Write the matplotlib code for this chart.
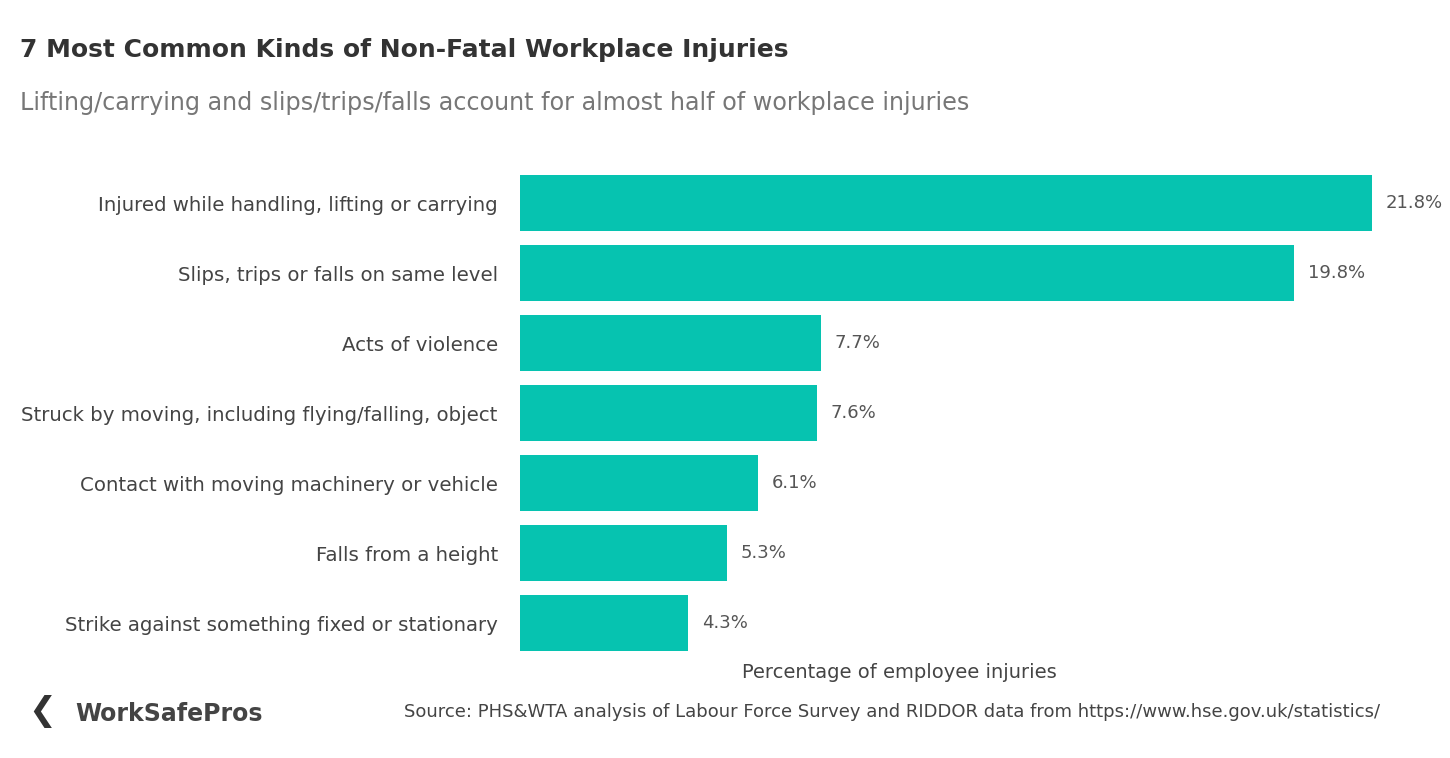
import matplotlib.pyplot as plt

categories = [
    "Injured while handling, lifting or carrying",
    "Slips, trips or falls on same level",
    "Acts of violence",
    "Struck by moving, including flying/falling, object",
    "Contact with moving machinery or vehicle",
    "Falls from a height",
    "Strike against something fixed or stationary",
]
values = [21.8, 19.8, 7.7, 7.6, 6.1, 5.3, 4.3]
value_labels = ["21.8%", "19.8%", "7.7%", "7.6%", "6.1%", "5.3%", "4.3%"]

W, H = 1450, 758
fig = plt.figure(figsize=(W / 100, H / 100), dpi=100)
fig.patch.set_facecolor("white")

# axes placed in pixel terms of the reference
left, right, top, bottom = 520, 1372, 168, 658
ax = fig.add_axes([left / W, 1 - bottom / H, (right - left) / W, (bottom - top) / H])

ypos = list(range(len(categories)))
ax.barh(ypos, values, height=0.8, color="#06c3b0")
ax.set_xlim(0, values[0])
ax.set_ylim(len(categories) - 0.5, -0.5)

for y, v, lab in zip(ypos, values, value_labels):
    ax.text(v + 0.35, y, lab, va="center", ha="left", fontsize=13, color="#555555", clip_on=False)

ax.set_yticks(ypos)
ax.set_yticklabels(categories, fontsize=14.2, color="#444444")
ax.tick_params(axis="y", length=0, pad=16)
ax.set_xticks([])
for s in ax.spines.values():
    s.set_visible(False)

fig.text(899 / W, 1 - 672 / H, "Percentage of employee injuries", ha="center", va="center",
         fontsize=14, color="#444444")

fig.text(20 / W, 1 - 50 / H, "7 Most Common Kinds of Non-Fatal Workplace Injuries", ha="left", va="center",
         fontsize=18, fontweight="bold", color="#333333")
fig.text(20 / W, 1 - 103 / H,
         "Lifting/carrying and slips/trips/falls account for almost half of workplace injuries",
         ha="left", va="center", fontsize=17.2, color="#777777")

fig.text(1380 / W, 1 - 712 / H,
         "Source: PHS&WTA analysis of Labour Force Survey and RIDDOR data from https://www.hse.gov.uk/statistics/",
         ha="right", va="center", fontsize=13, color="#444444")

# brand mark bottom-left
fig.text(28 / W, 1 - 712 / H, "\u276e", ha="left", va="center", fontsize=24, color="#333333", fontweight="bold")
fig.text(75 / W, 1 - 714 / H, "WorkSafePros", ha="left", va="center", fontsize=17,
         fontweight="bold", color="#444444")

fig.savefig("out.png", dpi=100, facecolor="white")
